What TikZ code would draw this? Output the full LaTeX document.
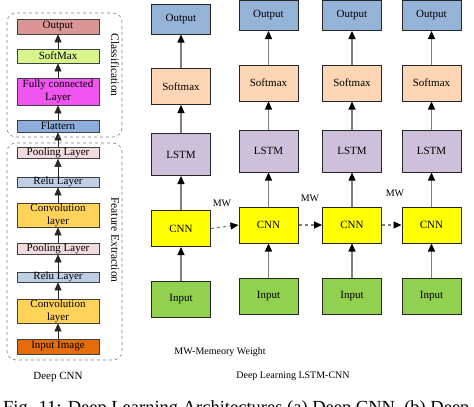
\documentclass[tikz,border=0pt]{standalone}
\usepackage{fontspec}
\setmainfont{Liberation Serif}
\usetikzlibrary{arrows.meta}

\definecolor{cnnout}{RGB}{217,150,148}
\definecolor{cnnsoft}{RGB}{215,245,140}
\definecolor{cnnfc}{RGB}{240,85,240}
\definecolor{cnnflat}{RGB}{141,174,220}
\definecolor{cnnpool}{RGB}{242,220,219}
\definecolor{cnnrelu}{RGB}{190,206,228}
\definecolor{cnnconv}{RGB}{255,210,90}
\definecolor{cnnin}{RGB}{228,108,10}
\definecolor{lstmout}{RGB}{149,179,215}
\definecolor{lstmsoft}{RGB}{252,213,180}
\definecolor{lstmcell}{RGB}{204,192,218}
\definecolor{lstmcnn}{RGB}{255,255,0}
\definecolor{lstmin}{RGB}{146,208,80}

\begin{document}
\begin{tikzpicture}[
        x=1pt, y=-1pt,
        layer/.style={draw=black!75, line width=0.7pt, minimum width=82pt, inner sep=0pt, align=center, font=\fontsize{11}{13}\selectfont},
        block/.style={draw=black!85, line width=1pt, minimum width=59pt, inner sep=0pt, font=\fontsize{11}{13}\selectfont},
        group/.style={draw=gray, dashed, line width=0.6pt, rounded corners=9pt},
        flow/.style={draw=black!85, line width=0.6pt, -{Triangle[length=8pt, width=7pt]}},
        link/.style={draw=gray, line width=1.1pt, -{Triangle[length=8pt, width=7pt, color=black]}},
        memory/.style={link, dashed},
        note/.style={inner sep=0pt, font=\fontsize{10}{12}\selectfont},
    ]
    \clip (0,0) rectangle (474,407);

    % Deep CNN
    \node[layer, fill=cnnout, minimum height=15pt](out) at (58,26.5){Output};
    \node[layer, fill=cnnsoft, minimum height=14pt](soft) at (58,56){SoftMax};
    \node[layer, fill=cnnfc, minimum height=27pt](fc) at (58,91.5){Fully connected\\Layer};
    \node[layer, fill=cnnflat, minimum height=12pt](flat) at (58,126){Flattern};
    \node[layer, fill=cnnpool, minimum height=11pt](pool2) at (58,153){Pooling Layer};
    \node[layer, fill=cnnrelu, minimum height=10pt](relu2) at (58,182){Relu Layer};
    \node[layer, fill=cnnconv, minimum height=24pt](conv2) at (58,215){Convolution\\layer};
    \node[layer, fill=cnnpool, minimum height=11pt](pool1) at (58,248.5){Pooling Layer};
    \node[layer, fill=cnnrelu, minimum height=10pt](relu1) at (58,277){Relu Layer};
    \node[layer, fill=cnnconv, minimum height=24pt](conv1) at (58,311){Convolution\\layer};
    \node[layer, fill=cnnin, minimum height=15pt](img) at (58,346.5){Input Image};

    \foreach \a/\b in {img/conv1, conv1/relu1, relu1/pool1, pool1/conv2, conv2/relu2,
            relu2/pool2, pool2/flat, flat/fc, fc/soft, soft/out}
        \draw[flow] (\a.north) -- (\b.south);

    \draw[group] (7,13) rectangle (122,137);
    \draw[group] (7,143) rectangle (122,360);
    \node[note, rotate=-90, font=\fontsize{11.5}{13}\selectfont](cls) at (115,65){Classification};
    \node[note, rotate=-90, font=\fontsize{11.5}{13}\selectfont](feat) at (115,240){Feature Extraction};
    \node[note, font=\fontsize{11}{13}\selectfont](cnnname) at (58,377){Deep CNN};

    % Deep Learning LSTM-CNN
    \foreach \i/\x/\dy in {1/181/3.5, 2/268.5/0, 3/352/0, 4/431.5/0}{
        \node[block, fill=lstmout, minimum height=30pt](out\i) at (\x,15.5+\dy){Output};
        \node[block, fill=lstmsoft, minimum height=36pt](soft\i) at (\x,83+\dy){Softmax};
        \node[block, fill=lstmcell, minimum height=42pt](lstm\i) at (\x,151+\dy){LSTM};
        \node[block, fill=lstmcnn, minimum height=36pt](cnn\i) at (\x,225+\dy){CNN};
        \node[block, fill=lstmin, minimum height=36pt](in\i) at (\x,296+\dy){Input};
        \draw[link] (in\i) -- (cnn\i);
        \draw[link] (cnn\i) -- (lstm\i);
        \draw[link] (lstm\i) -- (soft\i);
        \draw[link] (soft\i) -- (out\i);
    }
    \foreach \a/\b in {1/2, 2/3, 3/4}
        \draw[memory] (cnn\a.east) -- (cnn\b.west);

    \node[note](mw1) at (222,203){MW};
    \node[note](mw2) at (310,198){MW};
    \node[note](mw3) at (395,193){MW};
    \node[note](mwkey) at (220,352){MW-Memeory Weight};
    \node[note](lstmname) at (293,376){Deep Learning LSTM-CNN};

    \node[inner sep=0pt, anchor=base west, font=\fontsize{18.5}{20}\selectfont](caption) at (3,413){Fig. 11: Deep Learning Architectures (a) Deep CNN, (b) Deep};
\end{tikzpicture}
\end{document}
